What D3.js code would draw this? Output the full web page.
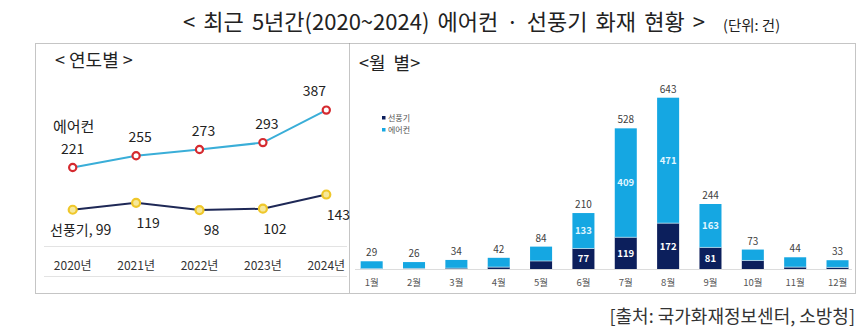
<!DOCTYPE html>
<html><head><meta charset="utf-8">
<script src="https://cdn.jsdelivr.net/npm/d3@7"></script>
<style>
html,body{margin:0;padding:0;background:#fff;}
svg{display:block;font-family:"Noto Sans CJK KR","Noto Sans",sans-serif;}
</style></head>
<body>
<svg id="chart" width="860" height="333"></svg>
<script>
// ---- data ----
const years = ["2020년","2021년","2022년","2023년","2024년"];
const yearAircon = [221,255,273,293,387];
const yearFan = [99,119,98,102,143];
const months = ["1월","2월","3월","4월","5월","6월","7월","8월","9월","10월","11월","12월"];
const monthTotal = [29,26,34,42,84,210,528,643,244,73,44,33];
const monthFan = [1,2,3,7,30,77,119,172,81,32,7,6];
const monthAircon = monthTotal.map((t,i)=>t-monthFan[i]);
const innerLabelMonths = ["6월","7월","8월","9월"];
const seriesNames = ["선풍기","에어컨"];
const titleText = "< 최근 5년간(2020~2024) 에어컨 · 선풍기 화재 현황 >";
const unitText = "(단위: 건)";
const sourceText = "[출처: 국가화재정보센터, 소방청]";

const C = {aircon:"#15a7e2", fan:"#0c1f5c", airLine:"#3aaed8", fanLine:"#1e2856",
  red:"#d52a2f", yellow:"#efc72a", text:"#222"};

const svg = d3.select("#chart");

// title
const title = svg.append("text").attr("x",183).attr("y",30).attr("font-size",22)
  .attr("fill",C.text).attr("style","white-space:pre").text(titleText);
{
  const len = title.node().getComputedTextLength();
  const spaces = (titleText.match(/ /g)||[]).length;
  title.attr("word-spacing", ((522-len)/spaces).toFixed(2));
}
svg.append("text").attr("x",723).attr("y",31).attr("font-size",14.5).attr("fill",C.text).text(unitText);

// frame
const dot = {stroke:"#8a8a8a","stroke-width":1,"stroke-dasharray":"1,1",fill:"none"};
const frame = svg.append("rect").attr("x",35.5).attr("y",43.5).attr("width",820).attr("height",250);
Object.entries(dot).forEach(([k,v])=>frame.attr(k,v));
const div = svg.append("line").attr("x1",349.5).attr("x2",349.5).attr("y1",43.5).attr("y2",293.5);
Object.entries(dot).forEach(([k,v])=>div.attr(k,v));

// ---- left: yearly lines ----
svg.append("text").attr("x",55).attr("y",67).attr("font-size",18).attr("fill",C.text)
  .attr("style","white-space:pre").text("< 연도별 >");
const xY = d3.scalePoint().domain(years).range([41,358]).padding(0.5);
const yY = d3.scaleLinear().domain([0,500]).range([244,71]);

svg.append("line").attr("x1",44).attr("x2",347).attr("y1",246.5).attr("y2",246.5).attr("stroke","#e3e3e3");
svg.append("line").attr("x1",44).attr("x2",347).attr("y1",276.5).attr("y2",276.5).attr("stroke","#e3e3e3");
svg.append("g").selectAll("text").data(years).join("text")
  .attr("x",d=>xY(d)).attr("y",270).attr("text-anchor","middle").attr("font-size",12)
  .attr("fill","#333").text(d=>d);

const line = d3.line().x((d,i)=>xY(years[i])).y(d=>yY(d));
svg.append("path").datum(yearAircon).attr("d",line).attr("fill","none").attr("stroke",C.airLine).attr("stroke-width",2);
svg.append("path").datum(yearFan).attr("d",line).attr("fill","none").attr("stroke",C.fanLine).attr("stroke-width",2);
svg.append("g").selectAll("circle").data(yearAircon).join("circle")
  .attr("cx",(d,i)=>xY(years[i])).attr("cy",d=>yY(d)).attr("r",3.6)
  .attr("fill","#fff").attr("stroke",C.red).attr("stroke-width",2.2);
svg.append("g").selectAll("circle").data(yearFan).join("circle")
  .attr("cx",(d,i)=>xY(years[i])).attr("cy",d=>yY(d)).attr("r",4)
  .attr("fill","#f6e89a").attr("stroke",C.yellow).attr("stroke-width",2.2);

svg.append("g").selectAll("text").data(yearAircon).join("text")
  .attr("x",(d,i)=>xY(years[i])+ (i===4?-12:(i===0?0:4))).attr("y",d=>yY(d)-14)
  .attr("text-anchor","middle").attr("font-size",14).attr("fill",C.text).text(d=>d);
svg.append("text").attr("x",53).attr("y",132).attr("font-size",15).attr("fill",C.text).text(seriesNames[1]);
svg.append("g").selectAll("text").data(yearFan).join("text")
  .attr("x",(d,i)=>i===0?50:xY(years[i])+12).attr("y",d=>yY(d)+25)
  .attr("text-anchor",(d,i)=>i===0?"start":"middle").attr("font-size",14).attr("fill",C.text)
  .text((d,i)=>i===0?seriesNames[0]+", "+d:d);

// ---- right: monthly stacked bars ----
svg.append("text").attr("x",359).attr("y",70).attr("font-size",18).attr("fill",C.text)
  .attr("style","white-space:pre").text("<월  별>");
const xM = d3.scaleBand().domain(months).range([350.5,858.7]).paddingInner(0.48).paddingOuter(0.24);
const yM = d3.scaleLinear().domain([0,700]).range([269,269-0.2664*700]);

svg.append("line").attr("x1",355).attr("x2",852).attr("y1",269.5).attr("y2",269.5).attr("stroke","#dcdcdc");

const gB = svg.append("g");
months.forEach((m,i)=>{
  const f = monthFan[i], a = monthAircon[i];
  gB.append("rect").attr("x",xM(m)).attr("width",xM.bandwidth())
    .attr("y",yM(f)).attr("height",yM(0)-yM(f)).attr("fill",C.fan);
  gB.append("rect").attr("x",xM(m)).attr("width",xM.bandwidth())
    .attr("y",yM(f+a)).attr("height",yM(f)-yM(f+a)).attr("fill",C.aircon);
  if (f>0) gB.append("line").attr("x1",xM(m)).attr("x2",xM(m)+xM.bandwidth())
    .attr("y1",yM(f)).attr("y2",yM(f)).attr("stroke","#cfe6f2").attr("stroke-width",0.7);
});
svg.append("g").selectAll("text").data(monthTotal).join("text")
  .attr("x",(d,i)=>xM(months[i])+xM.bandwidth()/2).attr("y",d=>yM(d)-5)
  .attr("text-anchor","middle").attr("font-size",10).attr("fill","#404040").text(d=>d);
const inner = months.map((m,i)=>({m,i})).filter(o=>innerLabelMonths.includes(o.m));
svg.append("g").selectAll("text.a").data(inner).join("text")
  .attr("x",o=>xM(o.m)+xM.bandwidth()/2)
  .attr("y",o=>(yM(monthFan[o.i])+yM(monthTotal[o.i]))/2+3.5)
  .attr("text-anchor","middle").attr("font-size",9.5).attr("font-weight","bold")
  .attr("fill","#e2f6ff").text(o=>monthAircon[o.i]);
svg.append("g").selectAll("text.f").data(inner).join("text")
  .attr("x",o=>xM(o.m)+xM.bandwidth()/2)
  .attr("y",o=>(yM(0)+yM(monthFan[o.i]))/2+3.5)
  .attr("text-anchor","middle").attr("font-size",9.5).attr("font-weight","bold")
  .attr("fill","#ffffff").text(o=>monthFan[o.i]);
svg.append("g").selectAll("text").data(months).join("text")
  .attr("x",d=>xM(d)+xM.bandwidth()/2).attr("y",286).attr("text-anchor","middle")
  .attr("font-size",9.5).attr("fill","#555").text(d=>d);

// legend
const lg = svg.append("g");
[[C.fan,seriesNames[0],118],[C.aircon,seriesNames[1],130]].forEach(([c,t,y])=>{
  lg.append("rect").attr("x",382).attr("y",y-2).attr("width",3.5).attr("height",3.5).attr("fill",c);
  lg.append("text").attr("x",388).attr("y",y+3).attr("font-size",8).attr("fill","#555").text(t);
});

// source
svg.append("text").attr("x",855).attr("y",323).attr("text-anchor","end").attr("font-size",18)
  .attr("fill","#333").text(sourceText);
</script>
</body></html>
